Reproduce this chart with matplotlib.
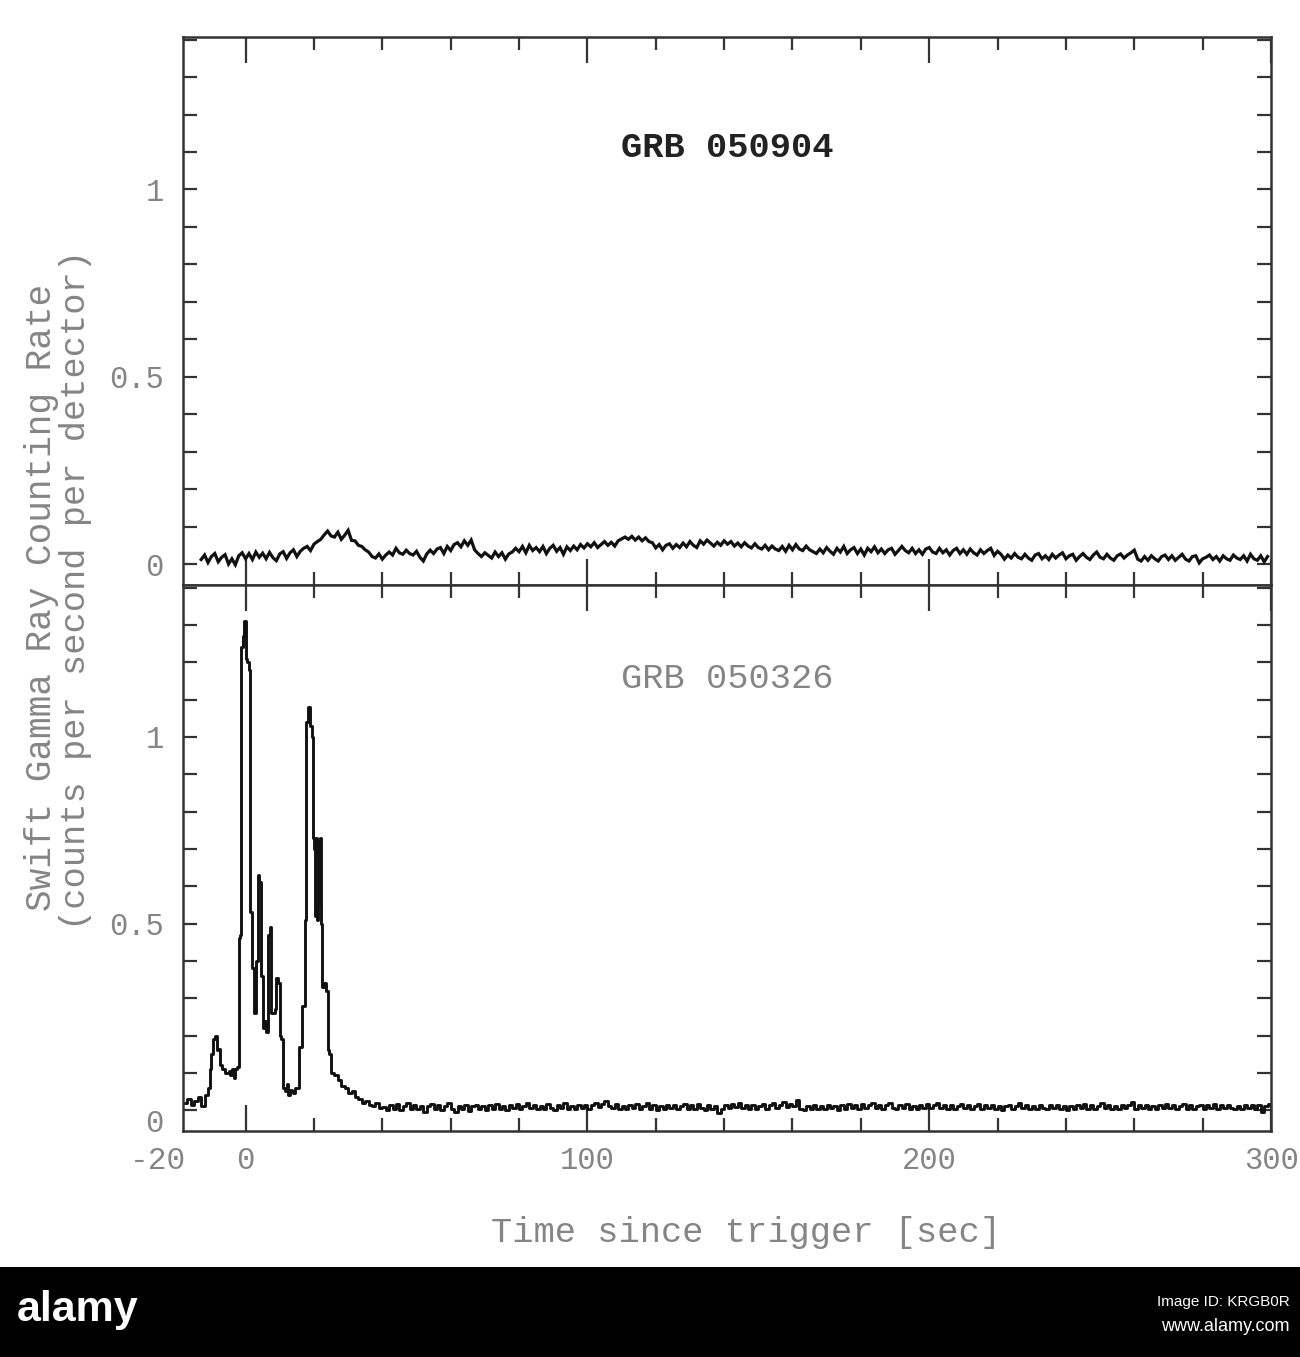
import numpy as np
import matplotlib
matplotlib.use("Agg")
import matplotlib.pyplot as plt
from matplotlib.ticker import MultipleLocator, FixedLocator, FixedFormatter
from matplotlib.patches import Rectangle

# ---------------- data ----------------
title_top = "GRB 050904"
title_bottom = "GRB 050326"
x_label = "Time since trigger [sec]"
y_label_1 = "Swift Gamma Ray Counting Rate"
y_label_2 = "(counts per second per detector)"
x_tick_values = [0, 100, 200, 300]
x_tick_labels = ["0", "100", "200", "300"]
y_tick_values = [0, 0.5, 1]
y_tick_labels = ["0", "0.5", "1"]

# GRB 050904: 1-s bins starting at t = -13 s
top_start = -13
top_rate = [
    0.012, 0.024, 0.004, 0.020, 0.028, 0.006, 0.018, 0.025, 0.000, 0.014,
    -0.002, 0.022, 0.030, 0.014, 0.028, 0.012, 0.032, 0.018, 0.029, 0.014,
    0.031, 0.017, 0.009, 0.027, 0.033, 0.015, 0.030, 0.038, 0.020, 0.034,
    0.042, 0.047, 0.036, 0.053, 0.060, 0.066, 0.078, 0.088, 0.075, 0.072,
    0.085, 0.066, 0.077, 0.090, 0.063, 0.062, 0.050, 0.047, 0.038, 0.032,
    0.020, 0.016, 0.027, 0.013, 0.024, 0.032, 0.024, 0.042, 0.030, 0.026,
    0.037, 0.028, 0.024, 0.034, 0.018, 0.008, 0.027, 0.037, 0.028, 0.040,
    0.044, 0.028, 0.047, 0.036, 0.052, 0.057, 0.046, 0.062, 0.050, 0.064,
    0.038, 0.028, 0.020, 0.030, 0.023, 0.016, 0.032, 0.020, 0.030, 0.013,
    0.027, 0.032, 0.042, 0.033, 0.047, 0.030, 0.050, 0.036, 0.044, 0.033,
    0.047, 0.028, 0.042, 0.050, 0.034, 0.044, 0.026, 0.046, 0.036, 0.048,
    0.038, 0.052, 0.043, 0.054, 0.046, 0.057, 0.044, 0.052, 0.060, 0.050,
    0.058, 0.048, 0.062, 0.067, 0.072, 0.066, 0.074, 0.064, 0.072, 0.062,
    0.070, 0.060, 0.057, 0.043, 0.052, 0.038, 0.050, 0.054, 0.042, 0.052,
    0.044, 0.056, 0.046, 0.060, 0.050, 0.044, 0.062, 0.053, 0.064, 0.056,
    0.048, 0.058, 0.050, 0.062, 0.053, 0.060, 0.048, 0.056, 0.046, 0.057,
    0.048, 0.043, 0.054, 0.044, 0.040, 0.050, 0.038, 0.048, 0.040, 0.036,
    0.047, 0.034, 0.050, 0.038, 0.052, 0.040, 0.036, 0.048, 0.038, 0.033,
    0.028, 0.040, 0.030, 0.044, 0.034, 0.026, 0.042, 0.032, 0.047, 0.028,
    0.038, 0.044, 0.028, 0.040, 0.024, 0.042, 0.033, 0.046, 0.030, 0.040,
    0.028, 0.038, 0.042, 0.026, 0.036, 0.047, 0.036, 0.030, 0.042, 0.028,
    0.038, 0.026, 0.040, 0.044, 0.032, 0.028, 0.042, 0.030, 0.038, 0.024,
    0.036, 0.042, 0.028, 0.038, 0.026, 0.040, 0.030, 0.024, 0.038, 0.028,
    0.036, 0.042, 0.023, 0.034, 0.026, 0.013, 0.024, 0.016, 0.028, 0.018,
    0.014, 0.026, 0.016, 0.010, 0.024, 0.028, 0.014, 0.022, 0.012, 0.026,
    0.016, 0.024, 0.030, 0.014, 0.022, 0.026, 0.010, 0.020, 0.028, 0.018,
    0.012, 0.024, 0.032, 0.018, 0.014, 0.026, 0.016, 0.010, 0.022, 0.027,
    0.016, 0.024, 0.030, 0.037, 0.013, 0.008, 0.020, 0.010, 0.022, 0.014,
    0.008, 0.020, 0.024, 0.012, 0.022, 0.010, 0.018, 0.026, 0.013, 0.008,
    0.020, 0.022, 0.003, 0.014, 0.018, 0.024, 0.012, 0.020, 0.008, 0.022,
    0.014, 0.010, 0.024, 0.016, 0.012, 0.022, 0.008, 0.026, 0.014, 0.010,
    0.022, 0.006, 0.020,
]

# GRB 050326: burst region (bin start times, rates)
burst_time = [
    -18, -17, -16, -15, -14, -13, -12, -11, -10.5, -10, -9.5, -9, -8.5, -8,
    -7.5, -7, -6, -5, -4.5, -4, -3.5, -3, -2.5, -2, -1.7, -1.2, -0.8, -0.4,
    0, 0.5, 1.0, 1.3, 2.0, 2.5, 3.0, 3.5, 4.0, 4.5, 5.0, 5.5, 6.0, 6.5, 7.0,
    7.5, 8.5, 9.0, 9.5, 10.0, 10.5, 11.0, 11.5, 12.0, 12.5, 13.0, 13.5, 14.0,
    14.5, 15.5, 16.5, 17.3, 17.8, 18.3, 18.8, 19.3, 19.7, 20.0, 20.3, 20.6,
    20.9, 21.2, 21.5, 21.8, 22.1, 22.4, 23.0, 23.6, 24.0, 24.5, 25.0, 26, 27,
    28, 29, 30, 31, 32, 33, 34, 35, 36, 37, 38, 39,
]
burst_rate = [
    0.020, 0.030, 0.015, 0.025, 0.035, 0.010, 0.040, 0.060, 0.110, 0.150,
    0.190, 0.200, 0.160, 0.165, 0.120, 0.110, 0.100, 0.105, 0.095, 0.110,
    0.085, 0.110, 0.115, 0.460, 0.470, 1.240, 1.270, 1.310, 1.210, 1.200,
    1.180, 0.530, 0.380, 0.260, 0.400, 0.630, 0.610, 0.360, 0.220, 0.240,
    0.210, 0.470, 0.490, 0.260, 0.270, 0.355, 0.340, 0.200, 0.190, 0.060,
    0.050, 0.070, 0.040, 0.055, 0.050, 0.045, 0.060, 0.170, 0.280, 0.510,
    1.040, 1.080, 1.030, 1.000, 0.730, 0.700, 0.520, 0.730, 0.510, 0.720,
    0.550, 0.730, 0.500, 0.330, 0.340, 0.320, 0.160, 0.150, 0.100, 0.095,
    0.080, 0.065, 0.060, 0.045, 0.050, 0.035, 0.030, 0.020, 0.025, 0.015,
    0.010, 0.020, 0.005,
]
# GRB 050326: tail, 1-s bins starting at t = 40 s
tail_start = 40
tail_rate = [
    0.008, 0.000, 0.014, 0.003, 0.017, 0.001, 0.012, 0.020, 0.004, 0.014,
    0.002, 0.012, -0.004, 0.010, 0.016, 0.003, 0.013, 0.001, 0.011, 0.018,
    0.004, -0.006, 0.012, 0.002, 0.014, -0.002, 0.010, 0.015, 0.003, 0.012,
    0.001, 0.013, 0.004, 0.017, 0.002, 0.011, 0.000, 0.014, 0.005, 0.016,
    0.003, 0.012, 0.020, 0.006, 0.014, 0.002, 0.012, 0.004, 0.016, 0.007,
    0.001, 0.014, 0.005, 0.018, 0.003, 0.012, 0.002, 0.015, 0.006, 0.013,
    0.004, 0.014, 0.020, 0.008, 0.017, 0.024, 0.010, 0.006, 0.016, 0.004,
    0.012, 0.002, 0.014, 0.005, 0.016, 0.003, 0.011, 0.018, 0.004, 0.013,
    0.000, 0.012, 0.003, 0.015, 0.006, 0.014, 0.002, 0.012, 0.017, 0.004,
    0.013, 0.003, 0.016, 0.006, 0.001, 0.014, 0.004, 0.012, -0.008, 0.002,
    0.014, 0.005, 0.017, 0.008, 0.020, 0.007, 0.015, 0.004, 0.013, 0.002,
    0.012, 0.016, 0.004, 0.014, 0.019, 0.006, 0.015, 0.022, 0.008, 0.017,
    0.010, 0.026, 0.002, 0.000, 0.010, 0.003, 0.013, 0.002, 0.011, 0.004,
    0.014, 0.005, 0.012, 0.001, 0.015, 0.004, 0.017, 0.006, 0.013, 0.003,
    0.016, 0.006, 0.014, 0.018, 0.005, 0.015, 0.003, 0.013, 0.019, 0.007,
    0.004, 0.014, 0.006, 0.016, 0.002, 0.012, 0.004, 0.015, 0.007, 0.017,
    0.005, 0.014, 0.018, 0.007, 0.015, 0.004, 0.013, 0.002, 0.012, 0.016,
    0.006, 0.014, 0.003, 0.012, 0.016, 0.004, 0.013, 0.005, 0.015, 0.002,
    0.011, 0.001, 0.010, 0.014, 0.003, 0.012, 0.018, 0.005, 0.013, 0.003,
    0.012, 0.004, 0.015, 0.006, 0.002, 0.013, 0.005, 0.014, 0.003, 0.011,
    0.001, 0.012, 0.004, 0.014, 0.006, 0.016, 0.004, 0.013, 0.003, 0.012,
    0.018, 0.005, 0.014, 0.002, 0.012, 0.004, 0.015, 0.006, 0.013, 0.021,
    0.003, 0.013, 0.005, 0.015, 0.002, 0.012, 0.004, 0.014, 0.006, 0.016,
    0.005, 0.014, 0.003, 0.012, 0.017, 0.004, 0.013, 0.002, 0.011, 0.015,
    0.004, 0.014, 0.006, 0.016, 0.003, 0.013, 0.005, 0.015, 0.007, 0.002,
    0.012, 0.004, 0.015, 0.006, 0.014, 0.003, 0.013, -0.004, 0.011, 0.016,
]

# ---------------- styling ----------------
MONO = ["Liberation Mono", "DejaVu Sans Mono"]
GRAY = "#858585"
INK = "#222222"
X_MIN, X_MAX = -18.3, 300
Y_MIN, Y_MAX = -0.056, 1.407

fig = plt.figure(figsize=(13, 13.57), dpi=100)
fig.patch.set_facecolor("white")

ax1 = fig.add_axes([0.1408, 0.5689, 0.8369, 0.4038])
ax2 = fig.add_axes([0.1408, 0.1665, 0.8369, 0.4024])

# top curve (noisy light curve)
t_top = top_start + np.arange(len(top_rate))
ax1.plot(t_top, top_rate, color="#111111", lw=2.3, solid_joinstyle="miter")

# bottom curve (binned light curve)
t_tail = tail_start + np.arange(len(tail_rate) + 1)
t_bot = np.concatenate([np.array(burst_time, float), t_tail])
r_bot = np.concatenate([np.array(burst_rate), np.array(tail_rate), [tail_rate[-1]]])
ax2.step(t_bot, r_bot, where="post", color="#111111", lw=2.1)

for ax in (ax1, ax2):
    ax.set_xlim(X_MIN, X_MAX)
    ax.set_ylim(Y_MIN, Y_MAX)
    ax.xaxis.set_major_locator(FixedLocator(x_tick_values))
    ax.xaxis.set_minor_locator(MultipleLocator(20))
    ax.yaxis.set_major_locator(FixedLocator(y_tick_values))
    ax.yaxis.set_minor_locator(MultipleLocator(0.1))
    ax.tick_params(axis="both", which="both", direction="in", top=True,
                   right=True, width=1.6, color="#333333",
                   labelcolor=GRAY, labelsize=22)
    ax.tick_params(axis="x", which="major", length=18.5, pad=11)
    ax.tick_params(axis="x", which="minor", length=9.5)
    ax.tick_params(axis="y", which="both", length=10, pad=14)
    for s in ax.spines.values():
        s.set_linewidth(1.8)
        s.set_color("#333333")

ax1.xaxis.set_major_formatter(FixedFormatter([""] * len(x_tick_values)))
ax1.yaxis.set_major_formatter(FixedFormatter(y_tick_labels))
ax2.xaxis.set_major_formatter(FixedFormatter(x_tick_labels))
ax2.yaxis.set_major_formatter(FixedFormatter([""] + y_tick_labels[1:]))
for lab in ax2.get_xticklabels() + ax2.get_yticklabels() + ax1.get_yticklabels():
    lab.set_fontfamily(MONO)

# "0" of lower panel (sits slightly low in the original) and "-20" label
ax2.annotate(y_tick_labels[0], xy=(0, 0), xycoords=ax2.get_yaxis_transform(),
             xytext=(-14, -10), textcoords="offset points", ha="right",
             va="center", color=GRAY, fontsize=22, family=MONO)
ax2.annotate("-20", xy=(-25.6, 0), xycoords=ax2.get_xaxis_transform(),
             xytext=(0, -11), textcoords="offset points", ha="center",
             va="top", color=GRAY, fontsize=22.5, family=MONO,
             annotation_clip=False)

ax1.text(0.5, 0.799, title_top, transform=ax1.transAxes, ha="center",
         va="center", fontsize=25.5, fontweight="bold", color=INK, family=MONO)
ax2.text(0.5, 0.828, title_bottom, transform=ax2.transAxes, ha="center",
         va="center", fontsize=25.5, color=GRAY, family=MONO)

fig.text(0.574, 0.0914, x_label, ha="center", va="center", fontsize=25.5,
         color=GRAY, family=MONO)
fig.text(0.032, 0.56, y_label_1, ha="center", va="center", rotation=90,
         fontsize=26, color=GRAY, family=MONO)
fig.text(0.058, 0.565, y_label_2, ha="center", va="center", rotation=90,
         fontsize=25.5, color=GRAY, family=MONO)

# footer band
fig.patches.append(Rectangle((0, 0), 1, 90 / 1357, transform=fig.transFigure,
                             facecolor="black", edgecolor="none", zorder=0))
fig.text(0.013, 0.035, "alamy", ha="left", va="center", fontsize=31,
         fontweight="bold", color="white",
         family=["Liberation Sans Narrow", "Liberation Sans", "DejaVu Sans"])
fig.text(0.992, 0.0405, "Image ID: KRGB0R", ha="right", va="center",
         fontsize=11, color="white",
         family=["Liberation Sans Narrow", "Liberation Sans", "DejaVu Sans"])
fig.text(0.992, 0.0222, "www.alamy.com", ha="right", va="center",
         fontsize=13, color="white",
         family=["Liberation Sans Narrow", "Liberation Sans", "DejaVu Sans"])

fig.savefig("out.png", dpi=100, facecolor="white")
